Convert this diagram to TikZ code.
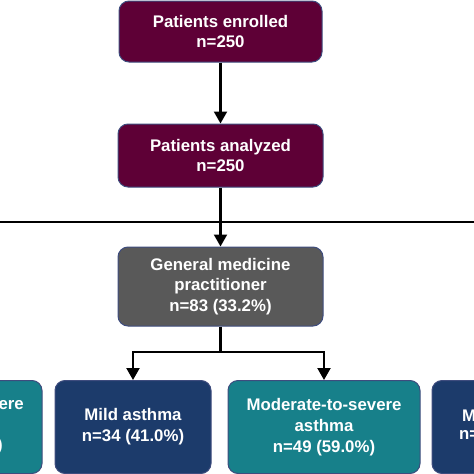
\documentclass[tikz,border=0pt]{standalone}
\usepackage{fontspec}
\setmainfont{Liberation Sans}
\usetikzlibrary{arrows.meta}
\definecolor{maroon}{HTML}{5E0036}
\definecolor{gbox}{HTML}{595959}
\definecolor{navy}{HTML}{1C3B6B}
\definecolor{teal}{HTML}{17808A}
\definecolor{edge}{HTML}{3E4C7E}
\tikzset{
  box/.style={draw=edge, line width=1pt, rounded corners=10pt, inner sep=0pt,
    align=center, text=white, font=\fontsize{16.8}{20.8}\selectfont\bfseries},
  boxtext/.style={inner sep=0pt, text=white, font=\fontsize{16.8}{20.8}\selectfont\bfseries},
  conn/.style={line width=2.2pt, black},
  arr/.style={conn, -{Triangle[length=12pt,width=13pt]}}
}
\begin{document}
\begin{tikzpicture}[x=1pt,y=-1pt]
\useasboundingbox (0,0) rectangle (474,474);
\clip (0,0) rectangle (474,474);
\node[box, fill=maroon, minimum width=203pt, minimum height=61pt] (enr) at (220.5,31.5) {Patients enrolled\\n=250};
\node[box, fill=maroon, minimum width=205pt, minimum height=63pt] (ana) at (220.5,155.5) {Patients analyzed\\n=250};
\node[box, fill=gbox, minimum width=205pt, minimum height=79pt] (gen) at (220.5,286.5) {General medicine\\practitioner\\n=83 (33.2\%)};
\node[box, fill=navy, minimum width=156pt, minimum height=93pt] (mild) at (133,427) {Mild asthma\\n=34 (41.0\%)};
\node[box, fill=teal, minimum width=192pt, minimum height=93pt] (mod) at (324,427) {Moderate-to-severe\\asthma\\n=49 (59.0\%)};
\node[box, fill=teal, minimum width=192pt, minimum height=93pt] (lbox) at (-54,427) {};
\node[box, fill=navy, minimum width=156pt, minimum height=93pt] (rbox) at (510,427) {};
\node[boxtext, anchor=east] (ltxt1) at (24,403) {Moderate-to-severe};
\node[boxtext, anchor=east] (ltxt3) at (3,446) {\%)};
\node[boxtext, anchor=west] (rtxt1) at (462,415) {Mild asthma};
\node[boxtext, anchor=west] (rtxt2) at (459,435) {n=};
\coordinate (hl) at (-10,222);
\coordinate (hr) at (484,222);
\coordinate (split) at (220.5,352);
\draw[arr] (enr.south) -- (ana.north);
\draw[conn] (hl) -- (hr);
\draw[arr] (ana.south) -- (gen.north);
\draw[conn] (gen.south) -- (split);
\draw[arr] (split) -| (mild.north);
\draw[arr] (split) -| (mod.north);
\end{tikzpicture}
\end{document}
